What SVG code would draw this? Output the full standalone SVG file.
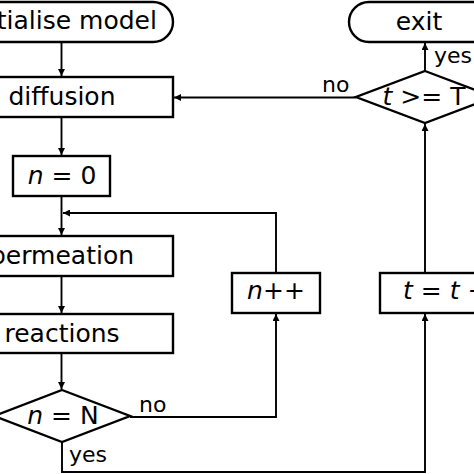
<svg xmlns="http://www.w3.org/2000/svg" width="474" height="474" viewBox="0 0 474 474">
<defs>
<style>
.s{fill:#fff;stroke:#000;stroke-width:2.4}
.c{fill:none;stroke:#000;stroke-width:1.9}
text{font-family:"DejaVu Sans",sans-serif;font-size:25px;fill:#000}
.m{text-anchor:middle}
.l{font-size:22px}
</style>
<marker id="a" viewBox="0 0 10 10" refX="10" refY="5" markerWidth="8" markerHeight="7" orient="auto" markerUnits="userSpaceOnUse">
<path d="M0,0 L10,5 L0,10 Z" fill="#000"/>
</marker>
</defs>
<g id="connectors">
<path class="c" d="M61.5,42 V76" marker-end="url(#a)"/>
<path class="c" d="M61.5,117 V155" marker-end="url(#a)"/>
<path class="c" d="M61.5,196 V235" marker-end="url(#a)"/>
<path class="c" d="M276,273 V213 H63" marker-end="url(#a)"/>
<path class="c" d="M61.5,276 V313" marker-end="url(#a)"/>
<path class="c" d="M61.5,353 V389" marker-end="url(#a)"/>
<path class="c" d="M130,417 H276 V314" marker-end="url(#a)"/>
<path class="c" d="M62,442 V472 H425 V314" marker-end="url(#a)"/>
<path class="c" d="M425,273 V124" marker-end="url(#a)"/>
<path class="c" d="M356,97.5 H174" marker-end="url(#a)"/>
<path class="c" d="M425,71 V43" marker-end="url(#a)"/>
<text class="l" x="322" y="92">no</text>
<text class="l" x="434" y="63">yes</text>
<text class="l" x="139" y="412">no</text>
<text class="l" x="69" y="462">yes</text>
</g>
<g id="init">
<rect class="s" x="-50" y="2" width="223" height="40" rx="20"/>
<text class="m" x="62" y="29">initialise model</text>
</g>
<g id="diffusion">
<rect class="s" x="-50" y="77" width="223" height="40"/>
<text class="m" x="62" y="105">diffusion</text>
</g>
<g id="n0">
<rect class="s" x="13" y="156" width="97" height="40"/>
<text class="m" x="62" y="184"><tspan font-style="italic">n</tspan> = 0</text>
</g>
<g id="permeation">
<rect class="s" x="-50" y="236" width="223" height="40"/>
<text class="m" x="62" y="264">permeation</text>
</g>
<g id="reactions">
<rect class="s" x="-50" y="314" width="223" height="39"/>
<text class="m" x="62" y="342">reactions</text>
</g>
<g id="nN">
<polygon class="s" points="62,390 130,416 62,442 -6,416"/>
<text class="m" x="63" y="424"><tspan font-style="italic">n</tspan> = N</text>
</g>
<g id="ninc">
<rect class="s" x="232" y="273" width="88" height="40"/>
<text class="m" x="276" y="299"><tspan font-style="italic">n</tspan>++</text>
</g>
<g id="tinc">
<rect class="s" x="380" y="273" width="170" height="40"/>
<text x="403" y="299"><tspan font-style="italic">t</tspan> = <tspan font-style="italic">t</tspan> +</text>
</g>
<g id="tT">
<polygon class="s" points="425,71 494,97 425,123 356,97"/>
<text class="m" x="424" y="105"><tspan font-style="italic">t</tspan> &gt;= T</text>
</g>
<g id="exit">
<rect class="s" x="349" y="2" width="160" height="40" rx="20"/>
<text class="m" x="419" y="30">exit</text>
</g>
</svg>
